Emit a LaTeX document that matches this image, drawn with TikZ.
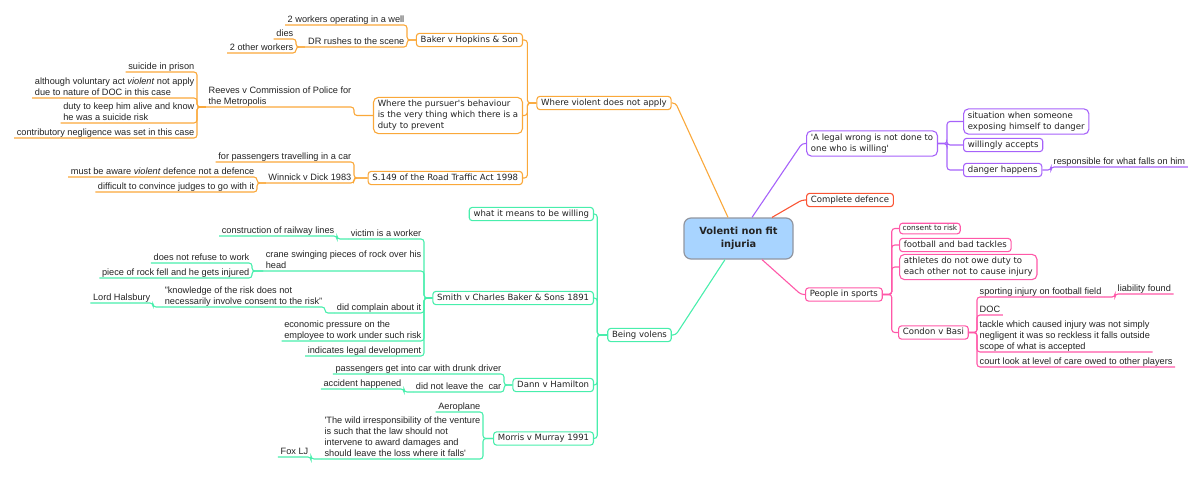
\documentclass[tikz,border=0pt]{standalone}
\usepackage{fontspec}
\setmainfont{Liberation Sans}
\newfontfamily\boxfont{DejaVu Sans}
\usetikzlibrary{calc}
\definecolor{cor}{RGB}{250,168,58}
\definecolor{cgr}{RGB}{72,238,172}
\definecolor{cpu}{RGB}{166,98,250}
\definecolor{cre}{RGB}{250,84,52}
\definecolor{cpi}{RGB}{255,88,168}
\definecolor{cfill}{RGB}{168,212,255}
\definecolor{cbord}{RGB}{145,150,160}
\definecolor{ctxt}{RGB}{35,35,35}
\tikzset{
  leaf/.style={font=\fontsize{9.2}{10.7}\selectfont, text=ctxt, inner xsep=2.5pt, inner ysep=0.9pt, text depth=1.9pt, align=left},
  tbase/.style={draw=#1, fill=white, line width=1.1pt, font=\boxfont\fontsize{8.55}{11}\selectfont, text=ctxt, inner xsep=4.3pt, align=left},
  topic/.style={tbase=#1, rounded corners=3pt, inner ysep=2.2pt, text height=6.7pt, text depth=2.1pt},
  topicm/.style={tbase=#1, rounded corners=5pt, inner ysep=3pt},
  link/.style={draw=#1, line width=1.1pt, rounded corners=3pt},
}
\begin{document}
\begin{tikzpicture}[x=1pt,y=-1pt]
\useasboundingbox (0,0) rectangle (1200,477);

% centre
\node[draw=cbord, fill=cfill, line width=1.2pt, rounded corners=7pt, minimum width=109pt, minimum height=41pt, align=center, text=ctxt, font=\boxfont\bfseries\fontsize{9.8}{13}\selectfont] (ctr) at (738.5,238.5) {Volenti non fit\\injuria};

% ---------------- orange branch
\node[topic=cor] (wv) at (604,103) {Where violent does not apply};
\node[topic=cor, anchor=east] (baker) at (523,40) {Baker v Hopkins \& Son};
\node[topicm=cor, anchor=east] (pursuer) at (523,115.5) {Where the pursuer's behaviour\\is the very thing which there is a\\duty to prevent};
\node[topic=cor, anchor=east] (s149) at (523,178) {S.149 of the Road Traffic Act 1998};

\node[leaf, anchor=south east] (w2) at (407,25) {2 workers operating in a well};
\node[leaf, anchor=south east] (dr) at (407,47) {DR rushes to the scene};
\node[leaf, anchor=south east] (dies) at (296,39) {dies};
\node[leaf, anchor=south east] (oth) at (296,53) {2 other workers};
\node[leaf, anchor=south east] (reeves) at (354,107) {Reeves v Commission of Police for\\the Metropolis};
\node[leaf, anchor=south east] (suic) at (197,72) {suicide in prison};
\node[leaf, anchor=south east] (alth) at (197,98) {although voluntary act \textit{violent} not apply\\due to nature of DOC in this case};
\node[leaf, anchor=south east] (duty) at (197,123) {duty to keep him alive and know\\he was a suicide risk};
\node[leaf, anchor=south east] (contr) at (197,138) {contributory negligence was set in this case};
\node[leaf, anchor=south east] (pass) at (354,162) {for passengers travelling in a car};
\node[leaf, anchor=south east] (winn) at (354,183) {Winnick v Dick 1983};
\node[leaf, anchor=south east] (aware) at (257,177) {must be aware \textit{violent} defence not a defence};
\node[leaf, anchor=south east] (diff) at (257,192) {difficult to convince judges to go with it};

\draw[link=cor] ([xshift=-10.5pt]ctr.north) -- ($(wv.east)+(4,0)$) -- (wv.east);
\foreach \c in {baker,pursuer,s149} \draw[link=cor] (wv.west) -- ++(-9,0) |- (\c.east);
\foreach \c in {w2,dr} \draw[link=cor] (baker.west) -| (\c.south east) -- (\c.south west);
\foreach \c in {dies,oth} \draw[link=cor] (dr.south west) -| (\c.south east) -- (\c.south west);
\draw[link=cor] (pursuer.west) -| (reeves.south east) -- (reeves.south west);
\foreach \c in {suic,alth,duty,contr} \draw[link=cor] (reeves.south west) -| (\c.south east) -- (\c.south west);
\foreach \c in {pass,winn} \draw[link=cor] (s149.west) -| (\c.south east) -- (\c.south west);
\foreach \c in {aware,diff} \draw[link=cor] (winn.south west) -| (\c.south east) -- (\c.south west);

% ---------------- green branch
\node[topic=cgr] (volens) at (639.5,335) {Being volens};
\node[topic=cgr, anchor=east] (willing) at (594,214) {what it means to be willing};
\node[topic=cgr, anchor=east] (smith) at (594,298) {Smith v Charles Baker \& Sons 1891};
\node[topic=cgr, anchor=east] (dann) at (594,385) {Dann v Hamilton};
\node[topic=cgr, anchor=east] (morris) at (594,438.5) {Morris v Murray 1991};

\node[leaf, anchor=south east] (victim) at (424,239) {victim is a worker};
\node[leaf, anchor=south east] (rail) at (337,236) {construction of railway lines};
\node[leaf, anchor=south east] (crane) at (424,271) {crane swinging pieces of rock over his\\head};
\node[leaf, anchor=south east] (refuse) at (252,263) {does not refuse to work};
\node[leaf, anchor=south east] (rock) at (252,278) {piece of rock fell and he gets injured};
\node[leaf, anchor=south east] (compl) at (424,313) {did complain about it};
\node[leaf, anchor=south east] (know) at (325,307) {"knowledge of the risk does not\\necessarily involve consent to the risk"};
\node[leaf, anchor=south east] (hals) at (153,303) {Lord Halsbury};
\node[leaf, anchor=south east] (econ) at (424,341) {economic pressure on the\\employee to work under such risk};
\node[leaf, anchor=south east] (indic) at (424,356) {indicates legal development};
\node[leaf, anchor=south east] (pdrunk) at (504,374) {passengers get into car with drunk driver};
\node[leaf, anchor=south east] (leave) at (504,392) {did not leave the\ \ car};
\node[leaf, anchor=south east] (acc) at (404,389) {accident happened};
\node[leaf, anchor=south east] (aero) at (483,412) {Aeroplane};
\node[leaf, anchor=south east] (wild) at (483,459) {\textquotesingle The wild irresponsibility of the venture\\is such that the law should not\\intervene to award damages and\\should leave the loss where it falls\textquotesingle};
\node[leaf, anchor=south east] (fox) at (311,457) {Fox LJ};

\draw[link=cgr] ([xshift=-13.5pt]ctr.south) -- ($(volens.east)+(4,0)$) -- (volens.east);
\foreach \c in {willing,smith,dann,morris} \draw[link=cgr] (volens.west) -- ++(-10,0) |- (\c.east);
\foreach \c in {victim,crane,compl,econ,indic} \draw[link=cgr] (smith.west) -| (\c.south east) -- (\c.south west);
\draw[link=cgr] (victim.south west) -| (rail.south east) -- (rail.south west);
\foreach \c in {refuse,rock} \draw[link=cgr] (crane.south west) -| (\c.south east) -- (\c.south west);
\draw[link=cgr] (compl.south west) -| (know.south east) -- (know.south west);
\draw[link=cgr] (know.south west) -| (hals.south east) -- (hals.south west);
\foreach \c in {pdrunk,leave} \draw[link=cgr] (dann.west) -| (\c.south east) -- (\c.south west);
\draw[link=cgr] (leave.south west) -| (acc.south east) -- (acc.south west);
\foreach \c in {aero,wild} \draw[link=cgr] (morris.west) -| (\c.south east) -- (\c.south west);
\draw[link=cgr] (wild.south west) -| (fox.south east) -- (fox.south west);

% ---------------- purple branch
\node[topicm=cpu, anchor=west] (legal) at (806,143.5) {\textquotesingle A legal wrong is not done to\\one who is willing\textquotesingle};
\node[topicm=cpu, anchor=west] (situ) at (963,121.5) {situation when someone\\exposing himself to danger};
\node[topic=cpu, anchor=west] (accept) at (963,145) {willingly accepts};
\node[topic=cpu, anchor=west] (danger) at (963,170) {danger happens};
\node[leaf, anchor=south west] (resp) at (1051,167) {responsible for what falls on him};

\draw[link=cpu] ([xshift=13.5pt]ctr.north) -- ($(legal.west)+(-4,0)$) -- (legal.west);
\foreach \c in {situ,accept,danger} \draw[link=cpu] (legal.east) -- ++(9,0) |- (\c.west);
\draw[link=cpu] (danger.east) -| (resp.south west) -- (resp.south east);

% ---------------- red branch
\node[topic=cre, anchor=west] (compd) at (806,200) {Complete defence};
\draw[link=cre] ([xshift=33.5pt]ctr.north) -- ($(compd.west)+(-4,0)$) -- (compd.west);

% ---------------- pink branch
\node[topic=cpi, anchor=west] (people) at (805,294.5) {People in sports};
\node[topic=cpi, anchor=west, font=\boxfont\fontsize{7.4}{9}\selectfont, text height=5.6pt, text depth=1.8pt, inner ysep=1.6pt, inner xsep=3pt] (consent) at (899,228.5) {consent to risk};
\node[topic=cpi, anchor=west] (foot) at (899,245) {football and bad tackles};
\node[topicm=cpi, anchor=west] (athl) at (899,267) {athletes do not owe duty to\\each other not to cause injury};
\node[topic=cpi, anchor=west] (condon) at (898,332.5) {Condon v Basi};

\node[leaf, anchor=south west] (sport) at (977,297) {sporting injury on football field};
\node[leaf, anchor=south west] (liab) at (1115,294) {liability found};
\node[leaf, anchor=south west] (doc) at (977,315) {DOC};
\node[leaf, anchor=south west] (tackle) at (977,352) {tackle which caused injury was not simply\\negligent it was so reckless it falls outside\\scope of what is accepted};
\node[leaf, anchor=south west] (court) at (977,367) {court look at level of care owed to other players};

\draw[link=cpi] ([xshift=23.5pt]ctr.south) -- ($(people.west)+(-4,0)$) -- (people.west);
\foreach \c in {consent,foot,athl,condon} \draw[link=cpi] (people.east) -- ++(9,0) |- (\c.west);
\foreach \c in {sport,doc,tackle,court} \draw[link=cpi] (condon.east) -| (\c.south west) -- (\c.south east);
\draw[link=cpi] (sport.south east) -| (liab.south west) -- (liab.south east);
\end{tikzpicture}
\end{document}
